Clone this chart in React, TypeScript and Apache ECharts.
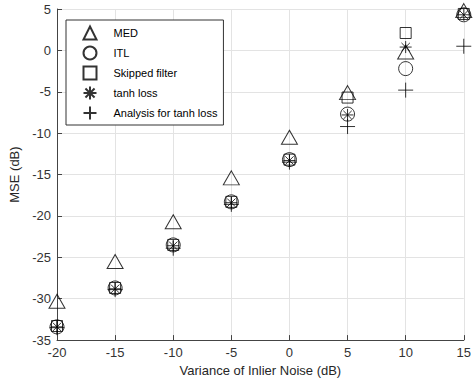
import React, { useEffect, useRef } from "react";
import * as echarts from "echarts";

const xValues = [-20, -15, -10, -5, 0, 5, 10, 15];
const medValues = [-30.3, -25.5, -20.7, -15.4, -10.5, -5.1, -0.2, 4.8];
const itlValues = [-33.4, -28.7, -23.5, -18.3, -13.2, -7.7, -2.2, 4.3];
const skippedValues = [-33.3, -28.7, -23.5, -18.3, -13.2, -5.7, 2.1, 4.4];
const tanhValues = [-33.4, -28.8, -23.6, -18.4, -13.3, -7.8, 0.4, 4.3];
const analysisValues = [-33.5, -28.9, -23.9, -18.6, -13.5, -9.2, -4.8, 0.5];

const seriesNames = ["MED", "ITL", "Skipped filter", "tanh loss", "Analysis for tanh loss"];

const PLUS = "path://M5,0L5,10M0,5L10,5";
const STAR = "path://M5,0L5,10M0,5L10,5M1.5,1.5L8.5,8.5M1.5,8.5L8.5,1.5";

const FONT = "Liberation Sans, Arial, Helvetica, sans-serif";

export default function App() {
  const ref = useRef<HTMLDivElement>(null);
  useEffect(() => {
    if (!ref.current) return;
    const chart = echarts.init(ref.current, undefined, { renderer: "svg" });
    const pair = (vals: number[]) => xValues.map((x, i) => [x, vals[i]]);
    const style = { color: "none", borderColor: "#000", borderWidth: 1 };
    const mk = (name: string, vals: number[], symbol: string, size: any) => ({
      name,
      type: "scatter",
      data: pair(vals),
      symbol,
      symbolSize: size,
      symbolKeepAspect: true,
      itemStyle: style,
      emphasis: { disabled: true },
    });
    chart.setOption({
      animation: false,
      textStyle: { fontFamily: FONT },
      grid: { left: 43, right: 9, top: 9, bottom: 41, containLabel: false },
      legend: {
        orient: "vertical",
        left: 66,
        top: 20,
        backgroundColor: "#fff",
        borderColor: "#333",
        borderWidth: 1,
        borderRadius: 0,
        padding: [4, 6, 3, 15],
        itemGap: 2,
        itemWidth: 13,
        itemHeight: 13,
        data: seriesNames,
        textStyle: { fontSize: 11, color: "#000", fontFamily: FONT, padding: [0, 0, 0, 12] },
      },
      xAxis: {
        type: "value",
        min: -20,
        max: 15,
        interval: 5,
        name: "Variance of Inlier Noise (dB)",
        nameLocation: "middle",
        nameGap: 23,
        nameTextStyle: { fontSize: 13, color: "#262626", fontFamily: FONT },
        axisLine: { show: true, onZero: false, lineStyle: { color: "#444", width: 1 } },
        axisTick: { show: true, inside: true, length: 5, lineStyle: { color: "#444" } },
        axisLabel: { fontSize: 13, color: "#333", margin: 6, fontFamily: FONT },
        splitLine: { show: true, lineStyle: { color: "#e3e3e3", width: 1 } },
      },
      yAxis: {
        type: "value",
        min: -35,
        max: 5,
        interval: 5,
        name: "MSE (dB)",
        nameLocation: "middle",
        nameGap: 36,
        nameRotate: 90,
        nameTextStyle: { fontSize: 13, color: "#262626", fontFamily: FONT },
        axisLine: { show: true, onZero: false, lineStyle: { color: "#444", width: 1 } },
        axisTick: { show: true, inside: true, length: 5, lineStyle: { color: "#444" } },
        axisLabel: { fontSize: 13, color: "#333", margin: 6, fontFamily: FONT },
        splitLine: { show: true, lineStyle: { color: "#e3e3e3", width: 1 } },
      },
      series: [
        mk(seriesNames[0], medValues, "triangle", [16, 14]),
        mk(seriesNames[1], itlValues, "circle", 14),
        mk(seriesNames[2], skippedValues, "rect", 11),
        mk(seriesNames[3], tanhValues, STAR, 12),
        mk(seriesNames[4], analysisValues, PLUS, 15),
      ],
    });
    return () => chart.dispose();
  }, []);
  return <div ref={ref} style={{ width: 474, height: 382, position: "absolute", left: 0, top: 0 }} />;
}
